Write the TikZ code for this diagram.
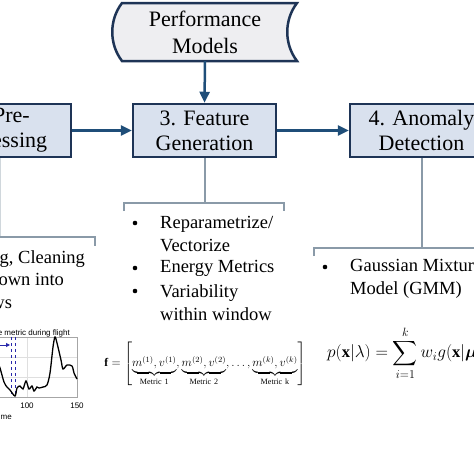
\documentclass[tikz,border=0pt]{standalone}
\usepackage{amsmath}
\usepackage{fontspec}
\setmainfont{Liberation Serif}
\setsansfont{Liberation Sans}
\usetikzlibrary{arrows.meta}
\definecolor{boxfill}{RGB}{217,225,238}
\definecolor{boxline}{RGB}{30,52,86}
\definecolor{flowblue}{RGB}{31,78,121}
\definecolor{bracketgray}{RGB}{138,154,168}
\definecolor{storefill}{RGB}{238,238,241}
\definecolor{markblue}{RGB}{40,40,170}

\begin{document}
\begin{tikzpicture}[x=1pt, y=-1pt,
    procbox/.style={draw=boxline, fill=boxfill, line width=2.5pt, minimum width=143pt, minimum height=53pt, align=center, inner sep=0pt, font=\fontsize{22}{25}\selectfont},
    flow/.style={draw=flowblue, line width=2.5pt, -{Triangle[length=11pt,width=10pt]}},
    bracket/.style={draw=bracketgray, line width=2pt},
    itemtext/.style={anchor=west, align=left, inner sep=0pt, font=\fontsize{18.5}{23}\selectfont},
    plotlabel/.style={inner sep=0pt, font=\sffamily\fontsize{8}{9.5}\selectfont}]
  \useasboundingbox (0,0) rectangle (474,474);
  \clip (0,0) rectangle (474,474);
  % stored data
  \draw[draw=boxline, fill=storefill, line width=2.5pt] (122,3) -- (297,3) .. controls (284,20) and (284,44) .. (297,61) -- (122,61) .. controls (109,44) and (109,20) .. (122,3) -- cycle;
  \node[align=center, inner sep=0pt, minimum height=58pt, font=\fontsize{22}{27}\selectfont] (perf) at (205,32) {Performance\\Models};
  % process steps
  \node[procbox] (pre) at (-0.5,130.5) {2. Pre-\\Processing};
  \node[procbox] (feat) at (204.5,130.5) {3. Feature\\Generation};
  \node[procbox] (anom) at (421.5,130.5) {4. Anomaly\\Detection};
  \draw[flow] (perf.south) -- (feat.north);
  \draw[flow] (pre) -- (feat);
  \draw[flow] (feat) -- (anom);
  % brackets
  \draw[bracket, bracketgray!40] (pre.south) -- ++(0,80);
  \draw[bracket] (-150,237) -- (95,237) -- (95,246);
  \draw[bracket] (feat.south) -- ++(0,46);
  \draw[bracket] (124,211) -- (124,203) -- (284,203) -- (284,211);
  \draw[bracket] (anom.south) -- ++(0,91);
  \draw[bracket] (314,256) -- (314,248) -- (600,248);
  % items
  \node[itemtext, font=\fontsize{18.5}{22.5}\selectfont] (prep) at (-55,279.5) {Filtering, Cleaning\\Breakdown into\\windows};
  \fill (135,223) circle (2.3pt);
  \fill (135,268) circle (2.3pt);
  \fill (135,291) circle (2.3pt);
  \node[itemtext] (repar) at (160,234) {Reparametrize/\\Vectorize};
  \node[itemtext] (energy) at (160,268) {Energy Metrics};
  \node[itemtext] (varia) at (160,302.5) {Variability\\within window};
  \fill (325,267) circle (2.3pt);
  \node[itemtext] (gmm) at (350,278.5) {Gaussian Mixture\\Model (GMM)};
  % small plot
  \draw[gray!25, line width=0.5pt] (27,337) -- (27,397) (-73,357) -- (77,357) (-73,377) -- (77,377);
  \draw[gray!70, line width=0.6pt] (-73,337) rectangle (77,397);
  \draw[markblue, line width=0.8pt, dashed] (11,337) -- (11,397) (15,337) -- (15,397);
  \draw[markblue, line width=1pt, -{Triangle[length=4pt,width=4pt]}] (-30,345) -- (10,345);
  \draw[black, line width=1.3pt] plot[smooth] coordinates {(-4,358) (0,368) (4,382) (7,387) (10,390) (15,396) (17,388) (20,386) (23,389) (26,381) (29,389) (32,386) (34,391) (37,387) (39,388) (43,387) (47,385) (50,373) (53,347) (55,337) (57,343) (61,360) (63,369) (67,365) (72,366) (74,373) (77,379)};
  \node[plotlabel, anchor=east] (ptitle) at (70,333) {Performance metric during flight};
  \node[plotlabel] (t100) at (27,406) {100};
  \node[plotlabel] (t150) at (77,406) {150};
  \node[plotlabel, anchor=east] (ptime) at (12,417) {Time};
  % equations
  \node[font=\fontsize{11.6}{14}\selectfont] (fvec) at (205,364) {$\mathbf{f} = \left[\underbrace{m^{(1)}, v^{(1)}}_{\mathrm{Metric\ 1}}, \underbrace{m^{(2)}, v^{(2)}}_{\mathrm{Metric\ 2}}, \ldots, \underbrace{m^{(k)}, v^{(k)}}_{\mathrm{Metric\ k}}\right]$};
  \node[anchor=west, inner sep=0pt, font=\fontsize{16.5}{20}\selectfont] (gmmeq) at (327,353) {$p(\mathbf{x}|\lambda) = \displaystyle\sum_{i=1}^{k} w_i g(\mathbf{x}|\boldsymbol{\mu}_i, \boldsymbol{\Sigma}_i)$};
\end{tikzpicture}
\end{document}
